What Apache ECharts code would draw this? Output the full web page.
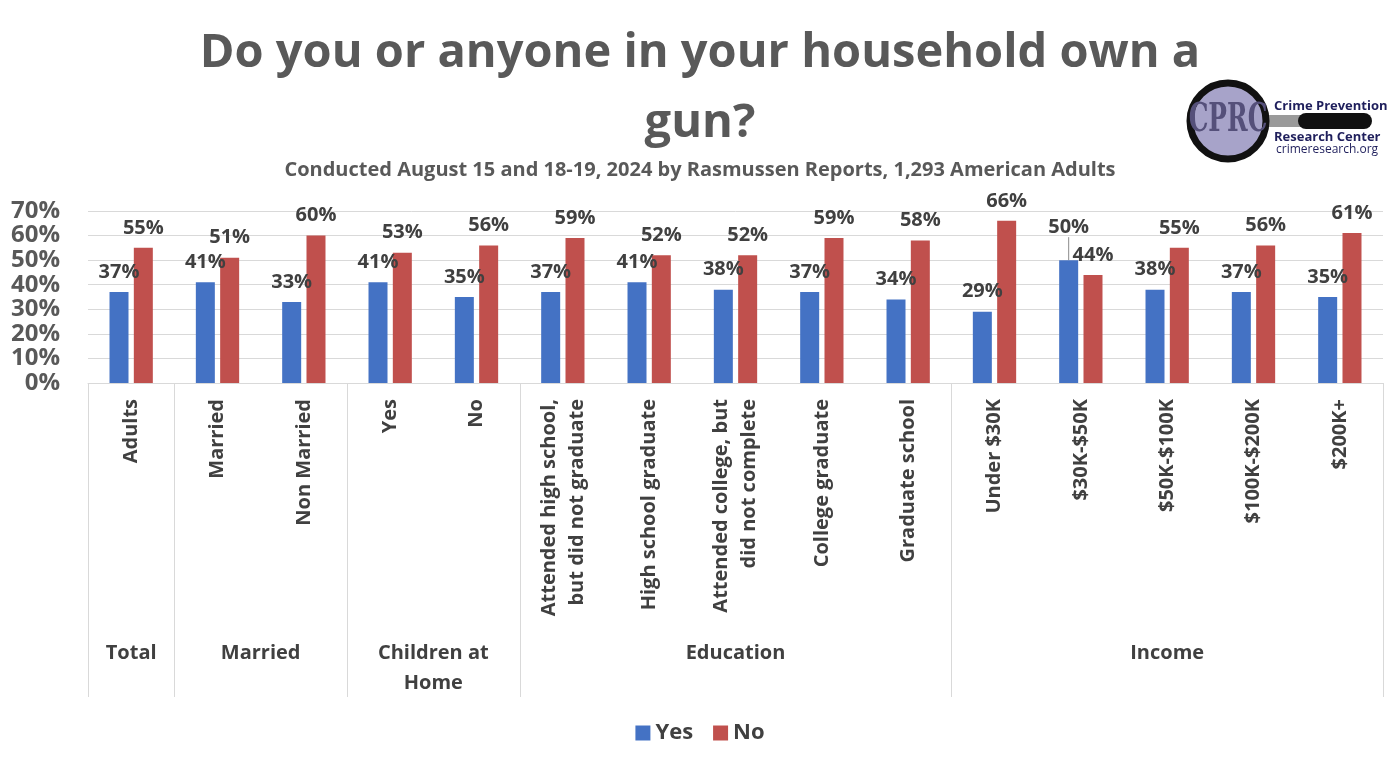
<!DOCTYPE html>
<html>
<head>
<meta charset="utf-8">
<script src="https://cdn.jsdelivr.net/npm/echarts@6/dist/echarts.min.js"></script>
<style>
  html, body { margin: 0; padding: 0; background: #fff; }
  #main { width: 1400px; height: 761px; }
</style>
</head>
<body>
<div id="main"></div>
<script>
// data
var categories = [
  'Adults', 'Married', 'Non Married', 'Yes', 'No',
  'Attended high school,\nbut did not graduate', 'High school graduate',
  'Attended college, but\ndid not complete', 'College graduate', 'Graduate school',
  'Under $30K', '$30K-$50K', '$50K-$100K', '$100K-$200K', '$200K+'
];
var yesValues = [37, 41, 33, 41, 35, 37, 41, 38, 37, 34, 29, 50, 38, 37, 35];
var noValues = [55, 51, 60, 53, 56, 59, 52, 52, 59, 58, 66, 44, 55, 56, 61];
var groupNames = ['Total', 'Married', 'Children at\nHome', 'Education', 'Income'];
var groupStarts = [0, 1, 3, 5, 10, 15]; // category index where each group starts (+ end)

var FONT = '"Open Sans", "Noto Sans", sans-serif';
var gray = '#595959';
var dark = '#404040';

var chart = echarts.init(document.getElementById('main'), null, { renderer: 'canvas' });

var yesData = yesValues.map(function (v, i) {
  if (i === 11) {
    return { value: v, labelLine: { show: true, lineStyle: { color: '#8c8c8c', width: 1 } } };
  }
  return v;
});

var option = {
  backgroundColor: '#fff',
  animation: false,
  textStyle: { fontFamily: FONT },
  title: [{
    text: 'Do you or anyone in your household own a\ngun?',
    left: 'center',
    top: 14,
    textStyle: { fontFamily: FONT, fontSize: 47, fontWeight: 'bold', color: gray, lineHeight: 70 }
  }, {
    text: 'Conducted August 15 and 18-19, 2024 by Rasmussen Reports, 1,293 American Adults',
    left: 'center',
    top: 155,
    textStyle: { fontFamily: FONT, fontSize: 20, fontWeight: 'bold', color: gray }
  }],
  legend: {
    bottom: 12,
    left: 'center',
    itemWidth: 15,
    itemHeight: 15,
    itemGap: 20,
    icon: 'rect',
    textStyle: { fontFamily: FONT, fontSize: 22, fontWeight: 'bold', color: dark },
    data: ['Yes', 'No']
  },
  grid: { left: 88, right: 17, top: 211, bottom: 378, containLabel: false },
  xAxis: {
    type: 'category',
    data: categories,
    axisLine: { lineStyle: { color: '#d9d9d9' } },
    axisTick: { show: false },
    axisLabel: {
      interval: 0,
      rotate: 90,
      margin: 16,
      fontFamily: FONT,
      fontSize: 20,
      fontWeight: 'bold',
      color: dark,
      lineHeight: 28
    }
  },
  yAxis: {
    type: 'value',
    min: 0,
    max: 70,
    interval: 10,
    axisLine: { show: false },
    axisTick: { show: false },
    splitLine: { lineStyle: { color: '#d9d9d9' } },
    axisLabel: {
      margin: 28,
      formatter: '{value}%',
      fontFamily: FONT,
      fontSize: 24,
      fontWeight: 'bold',
      color: gray
    }
  },
  series: [{
    name: 'Yes',
    type: 'bar',
    data: yesData,
    barWidth: 19,
    barGap: '28%',
    itemStyle: { color: '#4472C4' },
    label: {
      show: true, position: 'top', distance: 10,
      formatter: '{c}%', fontFamily: FONT, fontSize: 20, fontWeight: 'bold', color: dark
    },
    labelLayout: function (p) {
      if (p.dataIndex === 11) return { dy: -13 };
    }
  }, {
    name: 'No',
    type: 'bar',
    data: noValues,
    barWidth: 19,
    itemStyle: { color: '#C0504D' },
    label: {
      show: true, position: 'top', distance: 10,
      formatter: '{c}%', fontFamily: FONT, fontSize: 20, fontWeight: 'bold', color: dark
    }
  }]
};

chart.setOption(option);

// group separators and group names, placed from the category axis
var x0 = chart.convertToPixel({ xAxisIndex: 0 }, 0);
var x1 = chart.convertToPixel({ xAxisIndex: 0 }, 1);
var step = x1 - x0;
var axisY = chart.convertToPixel({ yAxisIndex: 0 }, 0);
var graphics = [];
groupStarts.forEach(function (g) {
  var x = Math.round(x0 - step / 2 + g * step) + 0.5;
  graphics.push({
    type: 'line', silent: true,
    shape: { x1: x, y1: axisY, x2: x, y2: 697 },
    style: { stroke: '#d9d9d9', lineWidth: 1 }
  });
});
groupNames.forEach(function (name, i) {
  var cx = x0 - step / 2 + (groupStarts[i] + groupStarts[i + 1]) / 2 * step;
  graphics.push({
    type: 'text', silent: true,
    x: cx, y: 638,
    style: {
      text: name, align: 'center', verticalAlign: 'top',
      font: 'bold 20px ' + FONT, fill: dark, lineHeight: 30
    }
  });
});

// logo, top right
graphics.push(
  { type: 'rect', shape: { x: 1262, y: 115, width: 40, height: 12 }, style: { fill: '#9a9a9a' } },
  { type: 'rect', shape: { x: 1298, y: 113, width: 74, height: 16, r: 8 }, style: { fill: '#111' } },
  { type: 'circle', shape: { cx: 1228, cy: 121, r: 38 }, style: { fill: '#a7a3c9', stroke: '#111', lineWidth: 7 } },
  { type: 'text', x: 1228, y: 121, scaleX: 0.62, z: 10, style: {
      text: 'CPRC', align: 'center', verticalAlign: 'middle',
      font: 'bold 40px "DejaVu Serif", serif', fill: '#55507a' } },
  { type: 'text', x: 1274, y: 100, style: {
      text: 'Crime Prevention', font: 'bold 13px ' + FONT, fill: '#1f1f5c' } },
  { type: 'text', x: 1274, y: 131, style: {
      text: 'Research Center', font: 'bold 13px ' + FONT, fill: '#1f1f5c' } },
  { type: 'text', x: 1276, y: 144, style: {
      text: 'crimeresearch.org', font: '12px ' + FONT, fill: '#1f1f5c' } }
);

chart.setOption({ graphic: graphics });
</script>
</body>
</html>
